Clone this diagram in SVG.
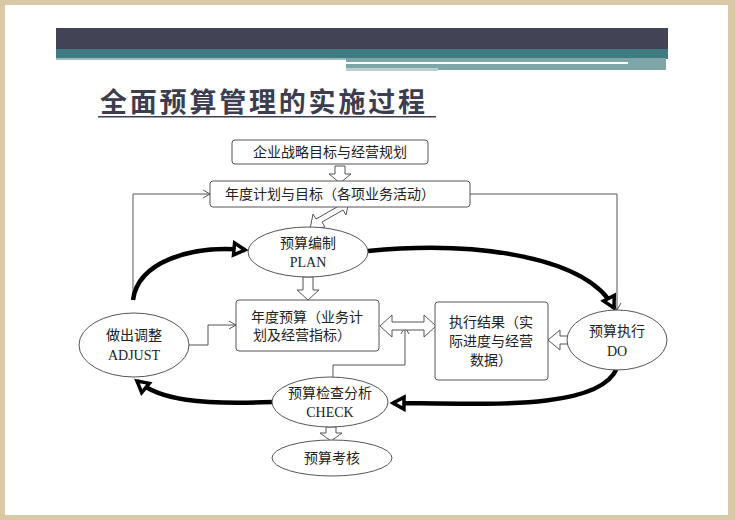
<svg xmlns="http://www.w3.org/2000/svg" width="735" height="520" viewBox="0 0 735 520">
<style>
.b{fill:#fff;stroke:#555;stroke-width:1}
.t{font-family:"Liberation Serif","Noto Sans CJK SC",serif;font-size:14px;fill:#222;text-anchor:middle}
.l{fill:none;stroke:#555;stroke-width:1}
.h{fill:#fff;stroke:#555;stroke-width:1}
.k{fill:none;stroke:#000;stroke-width:4.5}
</style>
<defs>
<marker id="a" markerWidth="10" markerHeight="10" refX="8" refY="5" orient="auto" markerUnits="userSpaceOnUse"><path d="M1,1 L8,5 L1,9" fill="none" stroke="#555"/></marker>
<marker id="k" markerWidth="18" markerHeight="18" refX="14" refY="9" orient="auto" markerUnits="userSpaceOnUse"><path d="M3,3 L14,9 L3,15 Z" fill="#fff" stroke="#000" stroke-width="3.5" stroke-linejoin="miter"/></marker>
</defs>
<rect width="735" height="520" fill="#d9c9a6"/>
<rect x="5" y="5" width="723" height="510" fill="#fff"/>
<rect x="56" y="28" width="612" height="22" fill="#424455"/>
<rect x="56" y="49" width="612" height="10" fill="#3f7b80"/>
<rect x="56" y="58" width="290" height="2" fill="#9cbcbe"/>
<rect x="346" y="58" width="320" height="12" fill="#7ea6a9"/>
<rect x="346" y="62" width="282" height="2" fill="#fff"/>
<rect x="346" y="68" width="92" height="3" fill="#b9d0d1"/>
<text x="100" y="112" font-family="'Noto Sans CJK SC',sans-serif" font-size="27" font-weight="bold" fill="#3d3d50" letter-spacing="5" textLength="330">全面预算管理的实施过程</text>
<rect x="98" y="116" width="338" height="1.5" fill="#3d3d50"/>
<g id="connectors">
<path class="l" d="M133,300 V194 H210" marker-end="url(#a)"/>
<path class="l" d="M470,194 H617 V310" marker-end="url(#a)"/>
<path class="l" d="M189,345 H208 V325 H236" marker-end="url(#a)"/>
<path class="l" d="M333,378 V365 H405 V327" marker-end="url(#a)"/>
<path class="h" d="M335,166 h10 v8 h6 l-11,9 l-11,-9 h6 z"/>
<path class="h" d="M303,277 h10 v13 h6 l-11,10 l-11,-10 h6 z"/>
<path class="h" d="M326,427 h10 v6 h6 l-11,8 l-11,-8 h6 z"/>
<path class="h" d="M570,336 v8 h-10 v6 l-12,-10 l12,-10 v6 z"/>
<path class="h" d="M380,326 l12,-11 v7 h32 v-7 l12,11 l-12,11 v-7 h-32 v7 z"/>
<path class="h" d="M310,229 l3,-15 l3,5 l21,-12 l-3,-5 l15,-1 l-3,14 l-3,-5 l-21,12 l3,5 z"/>
<path class="k" d="M133,300 C138,262 190,245 245,250" marker-end="url(#k)"/>
<path class="k" d="M368,251 C480,240 588,258 614,308" marker-end="url(#k)"/>
<path class="k" d="M617,368 C600,410 490,404 393,403" marker-end="url(#k)"/>
<path class="k" d="M272,402 C200,405 160,400 137,381" marker-end="url(#k)"/>
</g>
<g id="n1"><rect class="b" x="232" y="140" width="196" height="24" rx="3"/><text class="t" x="330" y="157">企业战略目标与经营规划</text></g>
<g id="n2"><rect class="b" x="210" y="181" width="260" height="26" rx="3"/><text class="t" x="330" y="199">年度计划与目标（各项业务活动）</text></g>
<g id="plan"><ellipse class="b" cx="308" cy="252" rx="60" ry="25"/><text class="t" x="308" y="248">预算编制</text><text class="t" x="308" y="267">PLAN</text></g>
<g id="n3"><rect class="b" x="236" y="300" width="143" height="51" rx="3"/><text class="t" x="307" y="322">年度预算（业务计</text><text class="t" x="302" y="340">划及经营指标）</text></g>
<g id="n4"><rect class="b" x="435" y="302" width="113" height="78" rx="3"/><text class="t" x="491" y="327">执行结果（实</text><text class="t" x="491" y="346">际进度与经营</text><text class="t" x="491" y="365">数据）</text></g>
<g id="do"><ellipse class="b" cx="617" cy="340" rx="50" ry="30"/><text class="t" x="617" y="336">预算执行</text><text class="t" x="617" y="356">DO</text></g>
<g id="adjust"><ellipse class="b" cx="134" cy="345" rx="55" ry="32"/><text class="t" x="134" y="340">做出调整</text><text class="t" x="134" y="360">ADJUST</text></g>
<g id="check"><ellipse class="b" cx="330" cy="402" rx="58" ry="25"/><text class="t" x="330" y="398">预算检查分析</text><text class="t" x="330" y="417">CHECK</text></g>
<g id="kh"><ellipse class="b" cx="332" cy="458" rx="60" ry="18"/><text class="t" x="332" y="463">预算考核</text></g>
</svg>
